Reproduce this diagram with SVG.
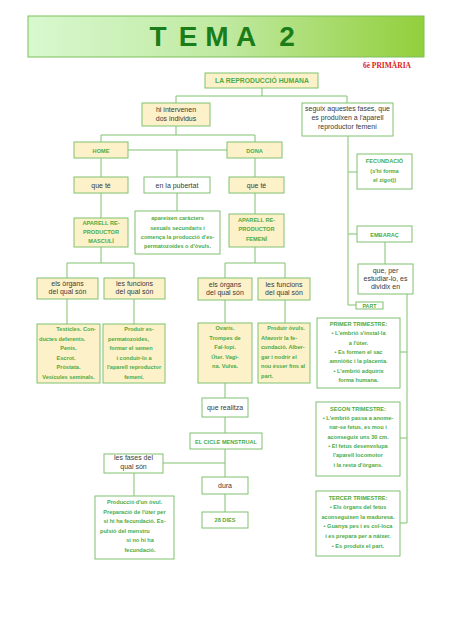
<svg xmlns="http://www.w3.org/2000/svg" width="452" height="640" viewBox="0 0 452 640">
<defs>
<linearGradient id="tg" x1="0" y1="0" x2="1" y2="0">
<stop offset="0" stop-color="#d8f8cf"/>
<stop offset="0.5" stop-color="#bfe9a0"/>
<stop offset="1" stop-color="#92cf3c"/>
</linearGradient>
<style>
.c{fill:#fcf1c9;stroke:#80c271;stroke-width:1}
.w{fill:#ffffff;stroke:#80c271;stroke-width:1}
.t{font-family:"Liberation Sans",Arial,sans-serif;font-size:7px;fill:#3a3a3a;text-anchor:middle}
.g{font-family:"Liberation Sans",Arial,sans-serif;font-size:5.6px;font-weight:bold;fill:#4dab45;text-anchor:middle}
.gl{text-anchor:start}
#conn line{stroke:#80c271;stroke-width:1}
</style>
</defs>
<rect width="452" height="640" fill="#ffffff"/>
<g id="title">
<rect x="28" y="16" width="396" height="41" fill="url(#tg)" stroke="#7cbf5a" stroke-width="1"/>
<g font-family="Liberation Sans,Arial,sans-serif" font-size="28" font-weight="bold" fill="#1a7d1a" text-anchor="middle">
<text x="158" y="46">T</text><text x="188" y="46">E</text><text x="217" y="46">M</text><text x="246" y="46">A</text><text x="287" y="46">2</text>
</g>
<text x="411" y="68" font-family="Liberation Serif,serif" font-size="7.5" font-weight="bold" fill="#e02020" text-anchor="end">6è PRIMÀRIA</text>
</g>
<g id="conn">
<line x1="262" y1="88" x2="262" y2="96"/><line x1="176" y1="96" x2="347" y2="96"/>
<line x1="176" y1="96" x2="176" y2="103"/><line x1="347" y1="96" x2="347" y2="103"/>
<line x1="176" y1="126" x2="176" y2="135"/><line x1="101" y1="135" x2="255" y2="135"/>
<line x1="101" y1="135" x2="101" y2="142"/><line x1="255" y1="135" x2="255" y2="142"/>
<line x1="128" y1="150" x2="227" y2="150"/><line x1="177" y1="150" x2="177" y2="177"/>
<line x1="101" y1="158" x2="101" y2="177"/><line x1="101" y1="193" x2="101" y2="218"/>
<line x1="101" y1="247" x2="101" y2="263"/><line x1="67" y1="263" x2="134" y2="263"/>
<line x1="67" y1="263" x2="67" y2="278"/><line x1="134" y1="263" x2="134" y2="278"/>
<line x1="67" y1="299" x2="67" y2="324"/><line x1="134" y1="299" x2="134" y2="324"/>
<line x1="177" y1="193" x2="177" y2="211"/>
<line x1="255" y1="158" x2="255" y2="177"/><line x1="255" y1="193" x2="255" y2="214"/>
<line x1="255" y1="247" x2="255" y2="263"/><line x1="225" y1="263" x2="285" y2="263"/>
<line x1="225" y1="263" x2="225" y2="278"/><line x1="285" y1="263" x2="285" y2="278"/>
<line x1="225" y1="300" x2="225" y2="323"/><line x1="285" y1="300" x2="285" y2="323"/>
<line x1="225" y1="383" x2="225" y2="398"/><line x1="225" y1="417" x2="225" y2="433"/>
<line x1="225" y1="449" x2="225" y2="477"/><line x1="163" y1="463" x2="225" y2="463"/>
<line x1="225" y1="494" x2="225" y2="512"/><line x1="134" y1="473" x2="134" y2="496"/>
<line x1="348" y1="136" x2="348" y2="305"/><line x1="348" y1="172" x2="357" y2="172"/>
<line x1="348" y1="234" x2="357" y2="234"/><line x1="348" y1="305" x2="356" y2="305"/>
<line x1="385" y1="242" x2="385" y2="264"/><line x1="407" y1="294" x2="407" y2="523"/>
<line x1="400" y1="352" x2="407" y2="352"/><line x1="400" y1="438" x2="407" y2="438"/>
<line x1="400" y1="523" x2="407" y2="523"/>
</g>
<g id="n-root"><rect class="c" x="205" y="73" width="113" height="15"/><text class="g" x="262" y="83" style="font-size:6.8px">LA REPRODUCCIÓ HUMANA</text></g>
<g id="n-individus"><rect class="c" x="142" y="103" width="68" height="23"/><text class="t" x="176" y="112">hi intervenen</text><text class="t" x="176" y="121">dos individus</text></g>
<g id="n-fases"><rect class="w" x="302" y="103" width="91" height="33"/><text class="t" x="347.5" y="110.5">seguix aquestes fases, que</text><text class="t" x="347.5" y="119.5">es produïxen a l'aparell</text><text class="t" x="347.5" y="128.5">reproductor femení</text></g>
<g id="n-home"><rect class="c" x="74" y="142" width="54" height="16"/><text class="g" x="101" y="152.5">HOME</text></g>
<g id="n-dona"><rect class="c" x="227" y="142" width="55" height="16"/><text class="g" x="254.5" y="152.5">DONA</text></g>
<g id="n-quete-m"><rect class="c" x="74" y="177" width="54" height="16"/><text class="t" x="101" y="187.5">que té</text></g>
<g id="n-pubertat"><rect class="w" x="144" y="177" width="66" height="16"/><text class="t" x="177" y="187.5">en la pubertat</text></g>
<g id="n-quete-f"><rect class="c" x="229" y="177" width="55" height="16"/><text class="t" x="256.5" y="187.5">que té</text></g>
<g id="n-caracters"><rect class="w" x="135" y="211" width="85" height="43"/>
<text class="g" x="177.5" y="220">apareixen caràcters</text><text class="g" x="177.5" y="229.5">sexuals secundaris i</text><text class="g" x="177.5" y="238.5">comença la producció d'es-</text><text class="g" x="177.5" y="247.5">permatozoides o d'òvuls.</text></g>
<g id="n-masc"><rect class="c" x="74" y="218" width="54" height="29"/><text class="g" x="101" y="224.5">APARELL RE-</text><text class="g" x="101" y="233.5">PRODUCTOR</text><text class="g" x="101" y="242.5">MASCULÍ</text></g>
<g id="n-fem"><rect class="c" x="229" y="214" width="55" height="33"/><text class="g" x="256.5" y="221.5">APARELL RE-</text><text class="g" x="256.5" y="231">PRODUCTOR</text><text class="g" x="256.5" y="240.5">FEMENÍ</text></g>
<g id="n-org-m"><rect class="c" x="37" y="278" width="61" height="21"/><text class="t" x="67.5" y="285.5">els òrgans</text><text class="t" x="67.5" y="293.5">del qual són</text></g>
<g id="n-fun-m"><rect class="c" x="104" y="278" width="61" height="21"/><text class="t" x="134.5" y="285.5">les funcions</text><text class="t" x="134.5" y="293.5">del qual són</text></g>
<g id="n-org-f"><rect class="c" x="198" y="278" width="54" height="22"/><text class="t" x="225" y="286.5">els òrgans</text><text class="t" x="225" y="295">del qual són</text></g>
<g id="n-fun-f"><rect class="c" x="258" y="278" width="52" height="22"/><text class="t" x="284" y="286.5">les funcions</text><text class="t" x="284" y="295">del qual són</text></g>
<g id="n-org-m-d"><rect class="c" x="37" y="324" width="63" height="59"/>
<text class="g" x="76" y="331">Testicles. Con-</text><text class="g gl" x="39" y="340.5">ductes deferents.</text><text class="g" x="68.5" y="350">Penis.</text><text class="g" x="66" y="359.5">Escrot.</text><text class="g" x="68.5" y="369">Pròstata.</text><text class="g" x="68.5" y="378.5">Vesícules seminals.</text></g>
<g id="n-fun-m-d"><rect class="c" x="103" y="324" width="62" height="59"/>
<text class="g" x="139" y="331">Produir es-</text><text class="g" x="128.5" y="340.5">permatozoides,</text><text class="g" x="131" y="350">formar el semen</text><text class="g" x="134" y="359.5">i conduir-lo a</text><text class="g" x="134" y="369">l'aparell reproductor</text><text class="g" x="134" y="378.5">femení.</text></g>
<g id="n-org-f-d"><rect class="c" x="198" y="323" width="54" height="60"/>
<text class="g" x="225" y="330">Ovaris.</text><text class="g" x="225" y="339.5">Trompes de</text><text class="g" x="225" y="349">Fal·lopi.</text><text class="g" x="225" y="358.5">Úter. Vagi-</text><text class="g" x="225" y="368">na. Vulva.</text></g>
<g id="n-fun-f-d"><rect class="c" x="258" y="323" width="52" height="60"/>
<text class="g" x="286" y="330">Produir òvuls.</text><text class="g gl" x="261" y="339.5">Afavorir la fe-</text><text class="g gl" x="261" y="349">cundació. Alber-</text><text class="g gl" x="261" y="358.5">gar i nodrir el</text><text class="g gl" x="261" y="368">nou ésser fins al</text><text class="g gl" x="261" y="377.5">part.</text></g>
<g id="n-realitza"><rect class="w" x="202" y="398" width="46" height="19"/><text class="t" x="225" y="410">que realitza</text></g>
<g id="n-cicle"><rect class="w" x="190" y="433" width="72" height="16"/><text class="g" x="226" y="443.5">EL CICLE MENSTRUAL</text></g>
<g id="n-lesfases"><rect class="w" x="104" y="454" width="59" height="19"/><text class="t" x="133.5" y="460">les fases del</text><text class="t" x="133.5" y="469">qual són</text></g>
<g id="n-dura"><rect class="w" x="202" y="477" width="46" height="17"/><text class="t" x="225" y="488">dura</text></g>
<g id="n-28"><rect class="w" x="202" y="512" width="46" height="16"/><text class="g" x="225" y="522">28 DIES</text></g>
<g id="n-produccio"><rect class="w" x="95" y="496" width="79" height="63"/>
<text class="g" x="134.5" y="504">Producció d'un òvul.</text><text class="g" x="134.5" y="513.5">Preparació de l'úter per</text><text class="g" x="134.5" y="523">si hi ha fecundació. Ex-</text><text class="g gl" x="100" y="532.5">pulsió del menstru</text><text class="g" x="140" y="542">si no hi ha</text><text class="g" x="140" y="551.5">fecundació.</text></g>
<g id="n-fecundacio"><rect class="w" x="357" y="154" width="55" height="35"/><text class="g" x="384.5" y="163">FECUNDACIÓ</text><text class="g" x="384.5" y="173">(s'hi forma</text><text class="g" x="384.5" y="182">el zigot))</text></g>
<g id="n-embarac"><rect class="w" x="357" y="226" width="55" height="16"/><text class="g" x="384.5" y="236.5">EMBARAÇ</text></g>
<g id="n-dividix"><rect class="w" x="358" y="264" width="55" height="30"/><text class="t" x="385.5" y="272.5">que, per</text><text class="t" x="385.5" y="280.5">estudiar-lo, es</text><text class="t" x="385.5" y="288.5">dividix en</text></g>
<g id="n-part"><rect class="w" x="356" y="302" width="27" height="7"/><text class="g" x="369.5" y="308" style="font-size:5.3px">PART</text></g>
<g id="n-primer"><rect class="w" x="317" y="318" width="83" height="70"/>
<text class="g" x="358.5" y="326">PRIMER TRIMESTRE:</text><text class="g" x="358.5" y="335">• L'embrió s'instal·la</text><text class="g" x="358.5" y="344.5">a l'úter.</text><text class="g" x="358.5" y="354">• Es formen el sac</text><text class="g" x="358.5" y="363">amniòtic i la placenta.</text><text class="g" x="358.5" y="373">• L'embrió adquirix</text><text class="g" x="358.5" y="382">forma humana.</text></g>
<g id="n-segon"><rect class="w" x="316" y="402" width="84" height="74"/>
<text class="g" x="358" y="411">SEGON TRIMESTRE:</text><text class="g" x="358" y="420">• L'embrió passa a anome-</text><text class="g" x="358" y="429">nar-se fetus, es mou i</text><text class="g" x="358" y="438.5">aconseguix uns 30 cm.</text><text class="g" x="358" y="448">• El fetus desenvolupa</text><text class="g" x="358" y="457">l'aparell locomotor</text><text class="g" x="358" y="467">i la resta d'òrgans.</text></g>
<g id="n-tercer"><rect class="w" x="316" y="491" width="84" height="65"/>
<text class="g" x="358" y="500">TERCER TRIMESTRE:</text><text class="g" x="358" y="509">• Els òrgans del fetus</text><text class="g" x="358" y="519">aconseguixen la maduresa.</text><text class="g" x="358" y="528">• Guanya pes i es col·loca</text><text class="g" x="358" y="538">i es prepara per a nàixer.</text><text class="g" x="358" y="547.5">• Es produïx el part.</text></g>
</svg>
